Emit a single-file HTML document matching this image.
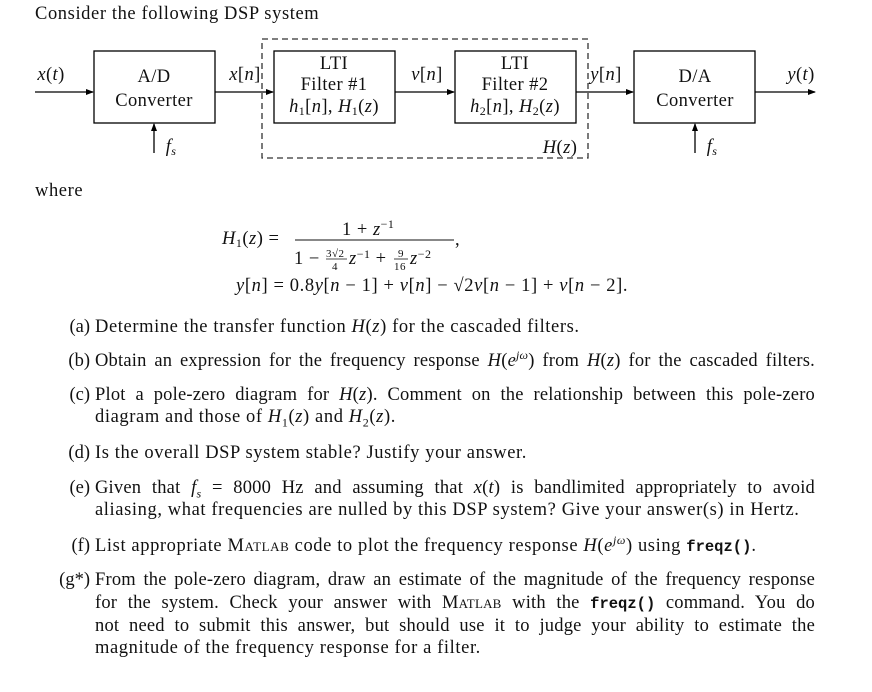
<!DOCTYPE html>
<html><head><style>
body{margin:0;width:872px;height:692px;background:#fff;font-family:"Liberation Serif",serif;color:#111;position:relative;overflow:hidden}
.t{position:absolute;font-size:18.5px;white-space:nowrap;line-height:1;letter-spacing:0.6px}
.j{width:720px;text-align:justify;text-align-last:justify;white-space:normal;letter-spacing:0.2px}
i{font-style:italic}
.lab{position:absolute;width:44px;text-align:right;font-size:18.5px;line-height:1;left:46px}
.sc{font-variant:small-caps}
tt{font-family:"Liberation Mono",monospace;font-weight:bold;font-size:15.5px;letter-spacing:0}
sub,sup{font-size:12px;line-height:0}
</style></head><body>
<div class="t" style="left:35px;top:5px">Consider the following DSP system</div>
<svg width="872" height="180" style="position:absolute;left:0;top:0" font-family="Liberation Serif" font-size="18.5" letter-spacing="0.4">
<defs><marker id="a" markerWidth="8" markerHeight="8" refX="7" refY="4" orient="auto" markerUnits="userSpaceOnUse"><path d="M0,1 L8,4 L0,7z" fill="#000"/></marker></defs>
<g stroke="#000" stroke-width="1.3" fill="none">
<rect x="94" y="51" width="121" height="72"/>
<rect x="274" y="51" width="121" height="72"/>
<rect x="455" y="51" width="121" height="72"/>
<rect x="634" y="51" width="121" height="72"/>
<rect x="262" y="39" width="326" height="119" stroke-dasharray="6,4" stroke="#333"/>
<line x1="35" y1="92" x2="93" y2="92" marker-end="url(#a)"/>
<line x1="215" y1="92" x2="273" y2="92" marker-end="url(#a)"/>
<line x1="395" y1="92" x2="454" y2="92" marker-end="url(#a)"/>
<line x1="576" y1="92" x2="633" y2="92" marker-end="url(#a)"/>
<line x1="755" y1="92" x2="815" y2="92" marker-end="url(#a)"/>
<line x1="154" y1="153" x2="154" y2="124" marker-end="url(#a)"/>
<line x1="695" y1="153" x2="695" y2="124" marker-end="url(#a)"/>
</g>
<g fill="#111" text-anchor="middle">
<text x="154" y="82">A/D</text><text x="154" y="106">Converter</text>
<text x="334" y="69">LTI</text><text x="334" y="90">Filter #1</text><text x="334" y="112"><tspan font-style="italic">h</tspan><tspan font-size="12" dy="3">1</tspan><tspan dy="-3">[</tspan><tspan font-style="italic">n</tspan>], <tspan font-style="italic">H</tspan><tspan font-size="12" dy="3">1</tspan><tspan dy="-3">(</tspan><tspan font-style="italic">z</tspan>)</text>
<text x="515" y="69">LTI</text><text x="515" y="90">Filter #2</text><text x="515" y="112"><tspan font-style="italic">h</tspan><tspan font-size="12" dy="3">2</tspan><tspan dy="-3">[</tspan><tspan font-style="italic">n</tspan>], <tspan font-style="italic">H</tspan><tspan font-size="12" dy="3">2</tspan><tspan dy="-3">(</tspan><tspan font-style="italic">z</tspan>)</text>
<text x="695" y="82">D/A</text><text x="695" y="106">Converter</text>
<text x="51" y="80"><tspan font-style="italic">x</tspan>(<tspan font-style="italic">t</tspan>)</text>
<text x="245" y="80"><tspan font-style="italic">x</tspan>[<tspan font-style="italic">n</tspan>]</text>
<text x="427" y="80"><tspan font-style="italic">v</tspan>[<tspan font-style="italic">n</tspan>]</text>
<text x="606" y="80"><tspan font-style="italic">y</tspan>[<tspan font-style="italic">n</tspan>]</text>
<text x="801" y="80"><tspan font-style="italic">y</tspan>(<tspan font-style="italic">t</tspan>)</text>
<text x="560" y="153"><tspan font-style="italic">H</tspan>(<tspan font-style="italic">z</tspan>)</text>
<text x="171" y="152" font-style="italic">f<tspan font-size="12" dy="3">s</tspan></text>
<text x="712" y="152" font-style="italic">f<tspan font-size="12" dy="3">s</tspan></text>
</g>
</svg>
<div class="t" style="left:35px;top:182px">where</div>
<svg width="872" height="90" style="position:absolute;left:0;top:210px" font-family="Liberation Serif" font-size="18.5" fill="#111" letter-spacing="0.5">
<text x="222" y="34"><tspan font-style="italic">H</tspan><tspan font-size="12" dy="3">1</tspan><tspan dy="-3">(</tspan><tspan font-style="italic">z</tspan>) =</text>
<text x="342" y="25">1 + <tspan font-style="italic">z</tspan><tspan font-size="12" dy="-7">−1</tspan></text>
<line x1="295" y1="30" x2="454" y2="30" stroke="#111" stroke-width="1"/>
<text x="455" y="35">,</text>
<text x="294" y="54">1 −</text>
<text x="326" y="47" font-size="11">3√2</text><line x1="326" y1="49" x2="347" y2="49" stroke="#111" stroke-width="0.8"/><text x="332" y="60" font-size="11">4</text>
<text x="349" y="54"><tspan font-style="italic">z</tspan><tspan font-size="12" dy="-6">−1</tspan><tspan dy="6"> +</tspan></text>
<text x="398" y="47" font-size="11">9</text><line x1="394" y1="49" x2="408" y2="49" stroke="#111" stroke-width="0.8"/><text x="394" y="60" font-size="11">16</text>
<text x="410" y="54"><tspan font-style="italic">z</tspan><tspan font-size="12" dy="-6">−2</tspan></text>
<text x="236" y="81" textLength="392" lengthAdjust="spacing"><tspan font-style="italic">y</tspan>[<tspan font-style="italic">n</tspan>] = 0.8<tspan font-style="italic">y</tspan>[<tspan font-style="italic">n</tspan> − 1] + <tspan font-style="italic">v</tspan>[<tspan font-style="italic">n</tspan>] − √2<tspan font-style="italic">v</tspan>[<tspan font-style="italic">n</tspan> − 1] + <tspan font-style="italic">v</tspan>[<tspan font-style="italic">n</tspan> − 2].</text>
</svg>
<div class="lab" style="top:318px">(a)</div><div class="t" style="left:95px;top:318px">Determine the transfer function <i>H</i>(<i>z</i>) for the cascaded filters.</div>
<div class="lab" style="top:352px">(b)</div><div class="t j" style="left:95px;top:352px">Obtain an expression for the frequency response <i>H</i>(<i>e</i><sup><i>jω</i></sup>) from <i>H</i>(<i>z</i>) for the cascaded filters.</div>
<div class="lab" style="top:386px">(c)</div><div class="t j" style="left:95px;top:386px">Plot a pole-zero diagram for <i>H</i>(<i>z</i>). Comment on the relationship between this pole-zero</div>
<div class="t" style="left:95px;top:408px">diagram and those of <i>H</i><sub>1</sub>(<i>z</i>) and <i>H</i><sub>2</sub>(<i>z</i>).</div>
<div class="lab" style="top:444px">(d)</div><div class="t" style="left:95px;top:444px">Is the overall DSP system stable? Justify your answer.</div>
<div class="lab" style="top:479px">(e)</div><div class="t j" style="left:95px;top:479px">Given that <i>f<sub>s</sub></i> = 8000 Hz and assuming that <i>x</i>(<i>t</i>) is bandlimited appropriately to avoid</div>
<div class="t" style="left:95px;top:501px">aliasing, what frequencies are nulled by this DSP system? Give your answer(s) in Hertz.</div>
<div class="lab" style="top:537px">(f)</div><div class="t" style="left:95px;top:537px">List appropriate <span class="sc">Matlab</span> code to plot the frequency response <i>H</i>(<i>e</i><sup><i>jω</i></sup>) using <tt>freqz()</tt>.</div>
<div class="lab" style="top:571px">(g*)</div><div class="t j" style="left:95px;top:571px">From the pole-zero diagram, draw an estimate of the magnitude of the frequency response</div>
<div class="t j" style="left:95px;top:594px">for the system. Check your answer with <span class="sc">Matlab</span> with the <tt>freqz()</tt> command. You do</div>
<div class="t j" style="left:95px;top:617px">not need to submit this answer, but should use it to judge your ability to estimate the</div>
<div class="t" style="left:95px;top:639px">magnitude of the frequency response for a filter.</div>
</body></html>
